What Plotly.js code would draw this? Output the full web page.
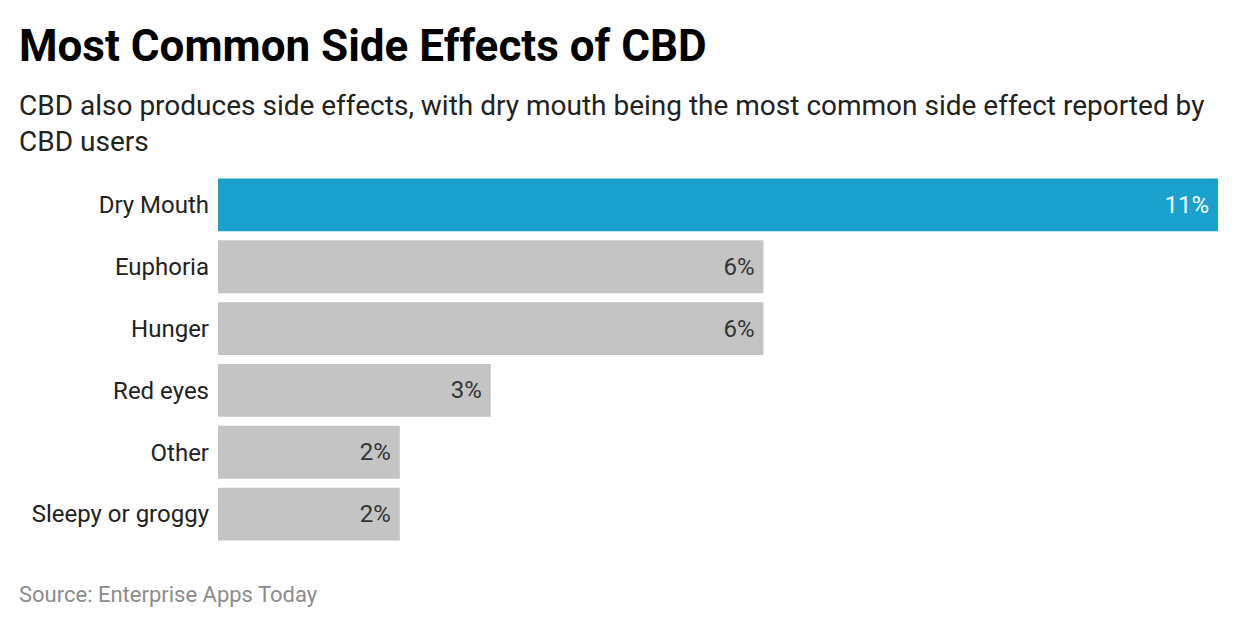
<!DOCTYPE html>
<html>
<head>
<meta charset="utf-8">
<script src="https://cdn.plot.ly/plotly-3.0.1.min.js"></script>
<style>html,body{margin:0;padding:0;background:#fff;}#chart{width:1240px;height:628px;}</style>
</head>
<body>
<div id="chart"></div>
<script>
const categories = ["Dry Mouth", "Euphoria", "Hunger", "Red eyes", "Other", "Sleepy or groggy"];
const values = [11, 6, 6, 3, 2, 2];
const barColors = ["#1aa1ce", "#c4c4c4", "#c4c4c4", "#c4c4c4", "#c4c4c4", "#c4c4c4"];
const textColors = ["#ffffff", "#333333", "#333333", "#333333", "#333333", "#333333"];

const W = 1240, H = 628;
const L = 218, R = 22, T = 173.5, B = 82.5;
const pw = W - L - R, ph = H - T - B;
const px = v => (v - L) / pw;
const py = v => (H - B - v) / ph;

const trace = {
  type: 'bar',
  orientation: 'h',
  x: values,
  y: categories,
  marker: {color: barColors},
  text: values.map(v => v + '%\u00a0'),
  textposition: 'inside',
  insidetextanchor: 'end',
  textfont: {family: 'Roboto', size: 24, color: textColors},
  hoverinfo: 'none',
  cliponaxis: false
};

const layout = {
  width: W, height: H,
  margin: {l: L, r: R, t: T, b: B, pad: 0},
  paper_bgcolor: '#ffffff',
  plot_bgcolor: '#ffffff',
  font: {family: 'Roboto', color: '#222222'},
  bargap: 0.145,
  showlegend: false,
  title: {
    text: '<b>Most Common Side Effects of CBD</b>',
    font: {family: 'Roboto', size: 44, color: '#000000'},
    xref: 'container', yref: 'container',
    x: 19 / W, y: 1 - 30 / H, xanchor: 'left', yanchor: 'top'
  },
  xaxis: {range: [0, 11], visible: false, fixedrange: true},
  yaxis: {
    autorange: 'reversed',
    showgrid: false, zeroline: false, showline: false,
    ticks: '', ticklabelstandoff: 8,
    tickfont: {family: 'Roboto', size: 24, color: '#222222'},
    fixedrange: true
  },
  annotations: [
    {
      text: 'CBD also produces side effects, with dry mouth being the most common side effect reported by<br>CBD users',
      xref: 'paper', yref: 'paper', x: px(17), y: py(86),
      xanchor: 'left', yanchor: 'top', align: 'left', showarrow: false,
      font: {family: 'Roboto', size: 28, color: '#222222'}
    },
    {
      text: 'Source: Enterprise Apps Today',
      xref: 'paper', yref: 'paper', x: px(17), y: py(581),
      xanchor: 'left', yanchor: 'top', align: 'left', showarrow: false,
      font: {family: 'Roboto', size: 22, color: '#8c8c8c'}
    }
  ]
};

Plotly.newPlot('chart', [trace], layout, {displayModeBar: false, staticPlot: true});
</script>
</body>
</html>
